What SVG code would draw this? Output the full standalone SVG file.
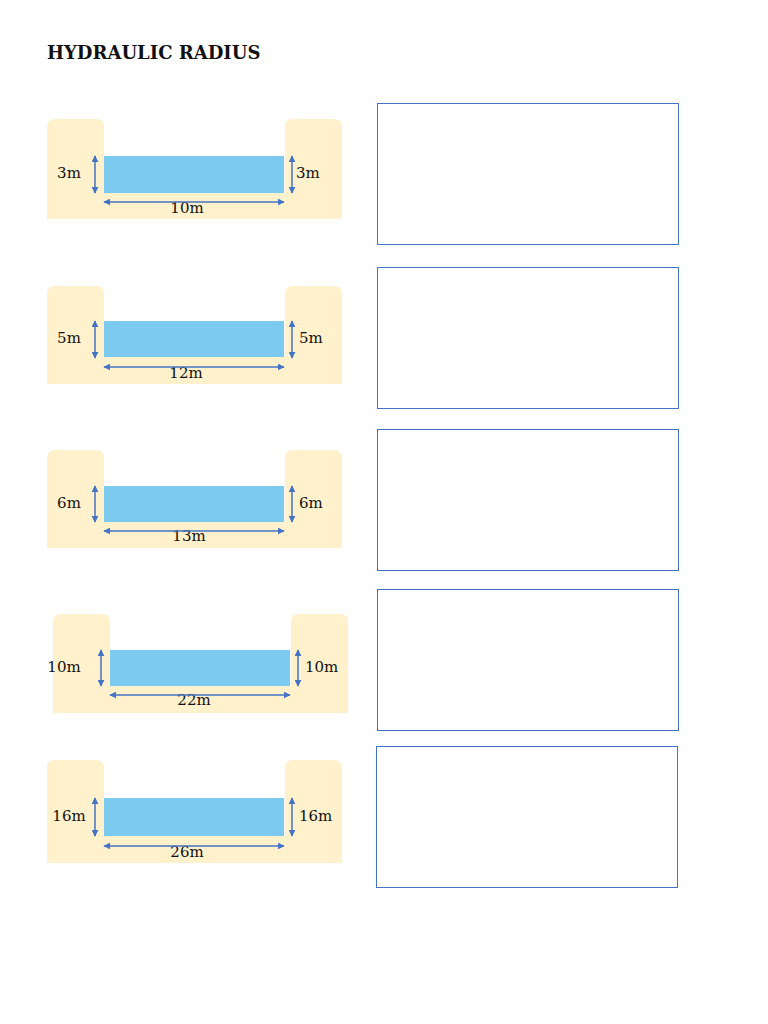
<svg xmlns="http://www.w3.org/2000/svg" width="768" height="1024" viewBox="0 0 768 1024">
<defs>
<marker id="ah" viewBox="0 0 10 10" refX="9" refY="5" markerWidth="7" markerHeight="7" orient="auto-start-reverse" markerUnits="userSpaceOnUse"><path d="M0,0 L10,5 L0,10 Z" fill="#4472c4"/></marker>
<style>
.bank{fill:#fff1cc}
.water{fill:#7ccaef}
.dim{stroke:#4472c4;stroke-width:1.5;fill:none;marker-start:url(#ah);marker-end:url(#ah)}
.lbl{font-family:"DejaVu Serif",serif;font-size:15px;fill:#111}
.box{fill:none;stroke:#4472c4;stroke-width:1}
.title{font-family:"DejaVu Serif",serif;font-size:18px;font-weight:bold;fill:#111}
</style>
</defs>
<rect width="768" height="1024" fill="#fff"/>
<text class="title" x="47" y="59">HYDRAULIC RADIUS</text>

<g id="channel1">
<path class="bank" d="M47,127 Q47,119 55,119 H96 Q104,119 104,127 V193 H285 V127 Q285,119 293,119 H334 Q342,119 342,127 V219 H47 Z"/>
<rect class="water" x="104" y="156" width="180" height="37"/>
<text class="lbl" x="69" y="178" text-anchor="middle">3m</text>
<text class="lbl" x="296" y="178">3m</text>
<text class="lbl" x="187" y="213" text-anchor="middle">10m</text>
</g>
<g id="channel2">
<path class="bank" d="M47,294 Q47,286 55,286 H96 Q104,286 104,294 V357 H285 V294 Q285,286 293,286 H334 Q342,286 342,294 V384 H47 Z"/>
<rect class="water" x="104" y="321" width="180" height="36"/>
<text class="lbl" x="69" y="343" text-anchor="middle">5m</text>
<text class="lbl" x="299" y="343">5m</text>
<text class="lbl" x="186" y="378" text-anchor="middle">12m</text>
</g>
<g id="channel3">
<path class="bank" d="M47,458 Q47,450 55,450 H96 Q104,450 104,458 V522 H285 V458 Q285,450 293,450 H334 Q342,450 342,458 V548 H47 Z"/>
<rect class="water" x="104" y="486" width="180" height="36"/>
<text class="lbl" x="69" y="508" text-anchor="middle">6m</text>
<text class="lbl" x="299" y="508">6m</text>
<text class="lbl" x="189" y="541" text-anchor="middle">13m</text>
</g>
<g id="channel4">
<path class="bank" d="M53,622 Q53,614 61,614 H102 Q110,614 110,622 V686 H291 V622 Q291,614 299,614 H340 Q348,614 348,622 V713 H53 Z"/>
<rect class="water" x="110" y="650" width="180" height="36"/>
<text class="lbl" x="64" y="672" text-anchor="middle">10m</text>
<text class="lbl" x="305" y="672">10m</text>
<text class="lbl" x="194" y="705" text-anchor="middle">22m</text>
</g>
<g id="channel5">
<path class="bank" d="M47,768 Q47,760 55,760 H96 Q104,760 104,768 V836 H285 V768 Q285,760 293,760 H334 Q342,760 342,768 V863 H47 Z"/>
<rect class="water" x="104" y="798" width="180" height="38"/>
<text class="lbl" x="69" y="821" text-anchor="middle">16m</text>
<text class="lbl" x="299" y="821">16m</text>
<text class="lbl" x="187" y="857" text-anchor="middle">26m</text>
</g>

<g id="connectors">
<line class="dim" x1="95" y1="156" x2="95" y2="193"/>
<line class="dim" x1="292" y1="156" x2="292" y2="193"/>
<line class="dim" x1="104" y1="202" x2="284" y2="202"/>
<line class="dim" x1="95" y1="321" x2="95" y2="358"/>
<line class="dim" x1="292" y1="321" x2="292" y2="358"/>
<line class="dim" x1="104" y1="367" x2="284" y2="367"/>
<line class="dim" x1="95" y1="486" x2="95" y2="522"/>
<line class="dim" x1="292" y1="486" x2="292" y2="522"/>
<line class="dim" x1="104" y1="531" x2="284" y2="531"/>
<line class="dim" x1="101" y1="650" x2="101" y2="686"/>
<line class="dim" x1="298" y1="650" x2="298" y2="686"/>
<line class="dim" x1="110" y1="695" x2="290" y2="695"/>
<line class="dim" x1="95" y1="798" x2="95" y2="836"/>
<line class="dim" x1="292" y1="798" x2="292" y2="836"/>
<line class="dim" x1="104" y1="846" x2="284" y2="846"/>
</g>

<g id="answer-boxes">
<rect id="box1" class="box" x="377.5" y="103.5" width="301" height="141"/>
<rect id="box2" class="box" x="377.5" y="267.5" width="301" height="141"/>
<rect id="box3" class="box" x="377.5" y="429.5" width="301" height="141"/>
<rect id="box4" class="box" x="377.5" y="589.5" width="301" height="141"/>
<rect id="box5" class="box" x="376.5" y="746.5" width="301" height="141"/>
</g>
</svg>
